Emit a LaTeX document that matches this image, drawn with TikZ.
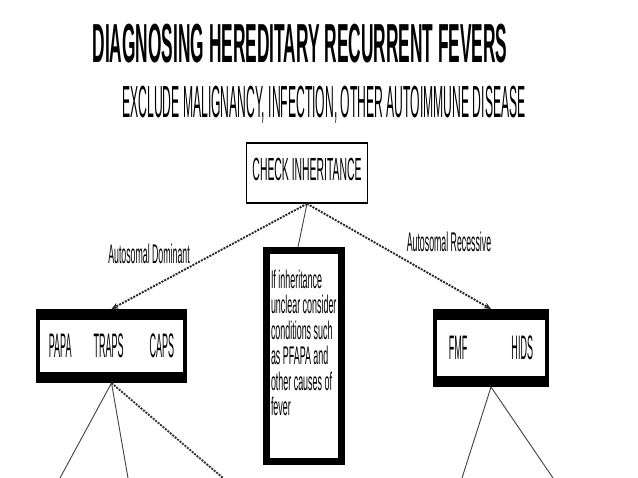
\documentclass[tikz,border=0pt]{standalone}
\usepackage{fontspec}
\usetikzlibrary{arrows.meta}
\setmainfont{Liberation Sans}
\newfontfamily\titlefont[FakeStretch=0.315]{Liberation Sans}
\newfontfamily\subfont[FakeStretch=0.27]{Liberation Sans}
\newfontfamily\narrowfont[FakeStretch=0.325]{Liberation Sans}
\newfontfamily\notefont[FakeStretch=0.35]{Liberation Sans}
\newfontfamily\listfont[FakeStretch=0.265]{Liberation Sans}

\tikzset{
  plainbox/.style={draw, line width=1.5pt, minimum width=121pt, minimum height=60pt,
    inner sep=0pt, text depth=8pt, font=\narrowfont\fontsize{32}{34}\selectfont},
  listbox/.style={draw, line width=4pt, inner sep=0pt, font=\listfont\fontsize{34}{36}\selectfont},
  notebox/.style={draw, line width=7pt, inner sep=0pt, font=\notefont\fontsize{25.5}{25.5}\selectfont},
  inherit/.style={font=\narrowfont\fontsize{27}{29}\selectfont},
  branch/.style={draw=black!85, line width=1.9pt, dash pattern=on 2pt off 1.2pt,
    -{Stealth[length=7pt,width=6pt]}},
  stem/.style={draw=black!75, line width=0.9pt},
  dashstem/.style={draw=black!80, line width=1.9pt, dash pattern=on 2pt off 1.2pt}
}

\begin{document}
\begin{tikzpicture}[x=1pt,y=-1pt]
    \useasboundingbox (0,0) rectangle (638,478);

    \node[anchor=base, font=\titlefont\bfseries\fontsize{55}{55}\selectfont] (title) at (300,63)
        {DIAGNOSING HEREDITARY RECURRENT FEVERS};
    \node[anchor=base, font=\subfont\fontsize{45}{45}\selectfont] (exclude) at (324,118)
        {EXCLUDE MALIGNANCY, INFECTION, OTHER AUTOIMMUNE DISEASE};

    \node[plainbox] (check) at (307,173) {CHECK INHERITANCE};

    \node[listbox, minimum width=147pt, minimum height=70pt] (dominant) at (111.5,346)
        {PAPA\hspace{22pt}TRAPS\hspace{26pt}CAPS};
    \node[listbox, minimum width=112pt, minimum height=74pt] (recessive) at (491,348)
        {FMF\hspace{44pt}HIDS};
    \node[notebox, minimum width=75pt, minimum height=211pt] (unclear) at (304,356)
        {\parbox[c][200pt][t]{66pt}{\vspace{14pt}\raggedright If inheritance\\unclear consider\\
        conditions such\\as PFAPA and\\other causes of\\fever}};

    \fill (dominant.north west) rectangle ([yshift=-11pt]dominant.north east);
    \fill (dominant.south west) rectangle ([yshift=11pt]dominant.south east);
    \fill (recessive.north west) rectangle ([yshift=-11pt]recessive.north east);
    \fill (recessive.south west) rectangle ([yshift=11pt]recessive.south east);

    \node[inherit] (adlabel) at (149,254) {Autosomal Dominant};
    \node[inherit] (arlabel) at (449,242) {Autosomal Recessive};

    \draw[branch] (check.south) -- (dominant.north);
    \draw[branch] (check.south) -- (recessive.north);
    \draw[stem] (check.south) -- ([xshift=-6pt]unclear.north);

    \coordinate (ad1) at (60,478);
    \coordinate (ad2) at (128,478);
    \coordinate (ad3) at (223,478);
    \coordinate (ar1) at (462,478);
    \coordinate (ar2) at (553,478);

    \draw[stem] (dominant.south) -- (ad1);
    \draw[stem] (dominant.south) -- (ad2);
    \draw[dashstem] (dominant.south) -- (ad3);
    \draw[stem] (recessive.south) -- (ar1);
    \draw[stem] (recessive.south) -- (ar2);
\end{tikzpicture}
\end{document}
